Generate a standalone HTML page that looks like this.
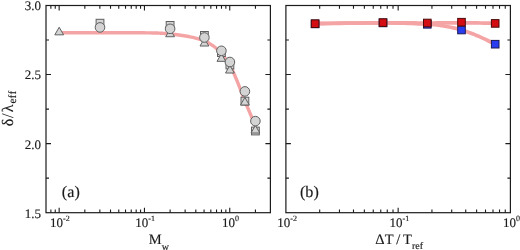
<!DOCTYPE html>
<html><head><meta charset="utf-8"><title>figure</title>
<style>html,body{margin:0;padding:0;background:#fff;overflow:hidden}svg{display:block} .t{font-family:"Liberation Serif","Times New Roman",serif;stroke:#1a1a1a;stroke-width:0.15px;text-rendering:geometricPrecision}</style>
</head><body>
<svg width="520" height="250" viewBox="0 0 520 250">
<rect width="520" height="250" fill="#fff"/>
<path d="M59.10,32.70 L61.05,32.70 L63.44,32.70 L66.24,32.70 L69.37,32.69 L72.78,32.69 L76.42,32.69 L80.24,32.69 L84.18,32.69 L88.18,32.69 L92.18,32.69 L96.14,32.69 L100.00,32.70 L103.94,32.71 L108.15,32.71 L112.55,32.71 L117.09,32.72 L121.69,32.72 L126.28,32.73 L130.80,32.74 L135.19,32.76 L139.37,32.78 L143.27,32.81 L146.84,32.85 L150.00,32.90 L152.74,32.95 L155.12,33.01 L157.20,33.07 L159.02,33.14 L160.64,33.21 L162.10,33.29 L163.46,33.38 L164.76,33.47 L166.05,33.58 L167.39,33.71 L168.82,33.85 L170.40,34.00 L172.08,34.17 L173.77,34.35 L175.48,34.55 L177.19,34.76 L178.89,34.98 L180.57,35.21 L182.24,35.45 L183.88,35.70 L185.48,35.96 L187.04,36.23 L188.55,36.51 L190.00,36.80 L191.40,37.10 L192.75,37.40 L194.06,37.71 L195.34,38.03 L196.58,38.36 L197.79,38.70 L198.96,39.05 L200.10,39.41 L201.22,39.79 L202.30,40.18 L203.36,40.58 L204.40,41.00 L205.41,41.44 L206.38,41.89 L207.33,42.36 L208.24,42.85 L209.12,43.35 L209.98,43.86 L210.81,44.37 L211.61,44.90 L212.39,45.42 L213.15,45.95 L213.89,46.48 L214.60,47.00 L215.28,47.51 L215.90,48.00 L216.48,48.47 L217.03,48.94 L217.55,49.42 L218.06,49.91 L218.56,50.41 L219.06,50.94 L219.58,51.51 L220.12,52.12 L220.69,52.78 L221.30,53.50 L221.95,54.27 L222.63,55.09 L223.34,55.94 L224.06,56.83 L224.80,57.76 L225.54,58.72 L226.28,59.71 L227.02,60.72 L227.75,61.76 L228.46,62.82 L229.14,63.90 L229.80,65.00 L230.43,66.12 L231.04,67.26 L231.63,68.42 L232.21,69.61 L232.77,70.82 L233.33,72.06 L233.88,73.32 L234.44,74.61 L234.99,75.92 L235.55,77.26 L236.12,78.62 L236.70,80.00 L237.30,81.44 L237.90,82.94 L238.52,84.51 L239.14,86.11 L239.77,87.74 L240.39,89.38 L241.01,91.00 L241.62,92.61 L242.22,94.18 L242.80,95.69 L243.36,97.14 L243.90,98.50 L244.41,99.77 L244.90,100.97 L245.36,102.10 L245.81,103.19 L246.24,104.23 L246.67,105.25 L247.09,106.26 L247.51,107.26 L247.94,108.27 L248.38,109.31 L248.83,110.38 L249.30,111.50 L249.80,112.70 L250.35,114.00 L250.92,115.36 L251.51,116.76 L252.10,118.17 L252.69,119.56 L253.26,120.91 L253.79,122.19 L254.29,123.36 L254.73,124.41 L255.10,125.29 L255.40,126.00" fill="none" stroke="#f4a4a4" stroke-width="3.4" stroke-linejoin="round"/>
<path d="M315.10,23.70 L318.46,23.65 L322.76,23.59 L327.85,23.51 L333.58,23.41 L339.77,23.32 L346.28,23.22 L352.94,23.12 L359.60,23.04 L366.09,22.97 L372.26,22.92 L377.95,22.90 L383.00,22.90 L387.60,22.93 L392.06,22.99 L396.36,23.06 L400.50,23.15 L404.48,23.26 L408.29,23.37 L411.92,23.50 L415.38,23.64 L418.65,23.78 L421.73,23.92 L424.61,24.06 L427.30,24.20 L429.71,24.34 L431.80,24.47 L433.62,24.61 L435.21,24.75 L436.62,24.89 L437.89,25.04 L439.06,25.20 L440.17,25.37 L441.28,25.56 L442.43,25.75 L443.65,25.97 L445.00,26.20 L446.42,26.45 L447.82,26.70 L449.21,26.97 L450.59,27.25 L451.96,27.54 L453.32,27.85 L454.69,28.17 L456.04,28.50 L457.40,28.85 L458.76,29.22 L460.13,29.60 L461.50,30.00 L462.87,30.42 L464.24,30.85 L465.61,31.29 L466.97,31.76 L468.34,32.23 L469.71,32.73 L471.08,33.23 L472.45,33.76 L473.83,34.29 L475.21,34.85 L476.60,35.42 L478.00,36.00 L479.46,36.63 L481.03,37.33 L482.65,38.09 L484.32,38.87 L485.99,39.68 L487.63,40.48 L489.22,41.25 L490.71,41.99 L492.09,42.68 L493.32,43.28 L494.37,43.80 L495.20,44.20" fill="none" stroke="#f4a4a4" stroke-width="3.7" stroke-linejoin="round"/>
<path d="M315.10,23.40 L318.46,23.37 L322.76,23.34 L327.85,23.30 L333.58,23.25 L339.77,23.20 L346.28,23.14 L352.94,23.09 L359.60,23.04 L366.09,22.99 L372.26,22.95 L377.95,22.92 L383.00,22.90 L387.55,22.89 L391.87,22.89 L395.97,22.89 L399.89,22.90 L403.64,22.91 L407.26,22.93 L410.75,22.95 L414.16,22.97 L417.49,22.98 L420.77,22.99 L424.04,23.00 L427.30,23.00 L430.51,22.99 L433.59,22.98 L436.57,22.96 L439.47,22.93 L442.29,22.91 L445.06,22.88 L447.80,22.86 L450.51,22.83 L453.22,22.81 L455.95,22.80 L458.70,22.80 L461.50,22.80 L464.43,22.81 L467.54,22.84 L470.75,22.87 L474.02,22.90 L477.28,22.94 L480.49,22.99 L483.57,23.03 L486.48,23.07 L489.16,23.11 L491.54,23.15 L493.57,23.18 L495.20,23.20" fill="none" stroke="#f4a4a4" stroke-width="3.7" stroke-linejoin="round"/>
<rect x="96.10" y="19.30" width="7.8" height="7.8" fill="#d4d4d4" stroke="#606060" stroke-width="1.0"/>
<rect x="166.20" y="21.50" width="7.8" height="7.8" fill="#d4d4d4" stroke="#606060" stroke-width="1.0"/>
<rect x="200.50" y="31.50" width="7.8" height="7.8" fill="#d4d4d4" stroke="#606060" stroke-width="1.0"/>
<rect x="217.50" y="48.70" width="7.8" height="7.8" fill="#d4d4d4" stroke="#606060" stroke-width="1.0"/>
<rect x="226.00" y="61.10" width="7.8" height="7.8" fill="#d4d4d4" stroke="#606060" stroke-width="1.0"/>
<rect x="241.00" y="97.20" width="7.8" height="7.8" fill="#d4d4d4" stroke="#606060" stroke-width="1.0"/>
<rect x="251.50" y="127.10" width="7.8" height="7.8" fill="#d4d4d4" stroke="#606060" stroke-width="1.0"/>
<path d="M59.20,27.23 L63.60,34.83 L54.80,34.83 Z" fill="#d4d4d4" stroke="#606060" stroke-width="1.0" stroke-linejoin="miter"/>
<path d="M170.10,29.13 L174.50,36.73 L165.70,36.73 Z" fill="#d4d4d4" stroke="#606060" stroke-width="1.0" stroke-linejoin="miter"/>
<path d="M204.40,38.43 L208.80,46.03 L200.00,46.03 Z" fill="#d4d4d4" stroke="#606060" stroke-width="1.0" stroke-linejoin="miter"/>
<path d="M221.40,53.73 L225.80,61.33 L217.00,61.33 Z" fill="#d4d4d4" stroke="#606060" stroke-width="1.0" stroke-linejoin="miter"/>
<path d="M229.90,65.43 L234.30,73.03 L225.50,73.03 Z" fill="#d4d4d4" stroke="#606060" stroke-width="1.0" stroke-linejoin="miter"/>
<path d="M244.90,97.43 L249.30,105.03 L240.50,105.03 Z" fill="#d4d4d4" stroke="#606060" stroke-width="1.0" stroke-linejoin="miter"/>
<path d="M255.40,125.43 L259.80,133.03 L251.00,133.03 Z" fill="#d4d4d4" stroke="#606060" stroke-width="1.0" stroke-linejoin="miter"/>
<circle cx="100.00" cy="27.40" r="4.8" fill="#d4d4d4" stroke="#606060" stroke-width="1.0"/>
<circle cx="170.10" cy="28.80" r="4.8" fill="#d4d4d4" stroke="#606060" stroke-width="1.0"/>
<circle cx="204.40" cy="37.50" r="4.8" fill="#d4d4d4" stroke="#606060" stroke-width="1.0"/>
<circle cx="221.40" cy="50.80" r="4.8" fill="#d4d4d4" stroke="#606060" stroke-width="1.0"/>
<circle cx="229.90" cy="62.00" r="4.8" fill="#d4d4d4" stroke="#606060" stroke-width="1.0"/>
<circle cx="244.90" cy="91.40" r="4.8" fill="#d4d4d4" stroke="#606060" stroke-width="1.0"/>
<circle cx="255.40" cy="121.10" r="4.8" fill="#d4d4d4" stroke="#606060" stroke-width="1.0"/>
<rect x="311.30" y="20.10" width="7.6" height="7.6" fill="#2a3cf0" stroke="#1a1a55" stroke-width="1.0"/>
<rect x="379.20" y="19.10" width="7.6" height="7.6" fill="#2a3cf0" stroke="#1a1a55" stroke-width="1.0"/>
<rect x="423.50" y="20.50" width="7.6" height="7.6" fill="#2a3cf0" stroke="#1a1a55" stroke-width="1.0"/>
<rect x="457.70" y="26.20" width="7.6" height="7.6" fill="#2a3cf0" stroke="#1a1a55" stroke-width="1.0"/>
<rect x="491.40" y="40.40" width="7.6" height="7.6" fill="#2a3cf0" stroke="#1a1a55" stroke-width="1.0"/>
<rect x="311.30" y="19.90" width="7.6" height="7.6" fill="#d40d12" stroke="#4a0a0a" stroke-width="1.0"/>
<rect x="379.20" y="18.80" width="7.6" height="7.6" fill="#d40d12" stroke="#4a0a0a" stroke-width="1.0"/>
<rect x="423.50" y="19.20" width="7.6" height="7.6" fill="#d40d12" stroke="#4a0a0a" stroke-width="1.0"/>
<rect x="457.70" y="18.40" width="7.6" height="7.6" fill="#d40d12" stroke="#4a0a0a" stroke-width="1.0"/>
<rect x="491.40" y="19.60" width="7.6" height="7.6" fill="#d40d12" stroke="#4a0a0a" stroke-width="1.0"/>
<path d="M50.88,212.7 v-3.3 M50.88,5.5 v3.3 M55.25,212.7 v-3.3 M55.25,5.5 v3.3 M59.15,212.7 v-5.0 M59.15,5.5 v5.0 M84.83,212.7 v-3.3 M84.83,5.5 v3.3 M99.85,212.7 v-3.3 M99.85,5.5 v3.3 M110.51,212.7 v-3.3 M110.51,5.5 v3.3 M118.77,212.7 v-3.3 M118.77,5.5 v3.3 M125.53,212.7 v-3.3 M125.53,5.5 v3.3 M131.24,212.7 v-3.3 M131.24,5.5 v3.3 M136.18,212.7 v-3.3 M136.18,5.5 v3.3 M140.55,212.7 v-3.3 M140.55,5.5 v3.3 M144.45,212.7 v-5.0 M144.45,5.5 v5.0 M170.13,212.7 v-3.3 M170.13,5.5 v3.3 M185.15,212.7 v-3.3 M185.15,5.5 v3.3 M195.81,212.7 v-3.3 M195.81,5.5 v3.3 M204.07,212.7 v-3.3 M204.07,5.5 v3.3 M210.83,212.7 v-3.3 M210.83,5.5 v3.3 M216.54,212.7 v-3.3 M216.54,5.5 v3.3 M221.48,212.7 v-3.3 M221.48,5.5 v3.3 M225.85,212.7 v-3.3 M225.85,5.5 v3.3 M229.75,212.7 v-5.0 M229.75,5.5 v5.0 M255.43,212.7 v-3.3 M255.43,5.5 v3.3 M46.0,40.03 h3 M270.4,40.03 h-3 M46.0,109.10 h3 M270.4,109.10 h-3 M46.0,178.17 h3 M270.4,178.17 h-3 M46.0,74.57 h5 M270.4,74.57 h-5 M46.0,143.63 h5 M270.4,143.63 h-5 " stroke="#1c1c1c" stroke-width="1.1" fill="none"/>
<rect x="46.0" y="5.5" width="224.39999999999998" height="207.2" fill="none" stroke="#1c1c1c" stroke-width="1.2"/>
<path d="M319.69,212.7 v-3.3 M319.69,5.5 v3.3 M339.46,212.7 v-3.3 M339.46,5.5 v3.3 M353.48,212.7 v-3.3 M353.48,5.5 v3.3 M364.36,212.7 v-3.3 M364.36,5.5 v3.3 M373.25,212.7 v-3.3 M373.25,5.5 v3.3 M380.76,212.7 v-3.3 M380.76,5.5 v3.3 M387.27,212.7 v-3.3 M387.27,5.5 v3.3 M393.01,212.7 v-3.3 M393.01,5.5 v3.3 M398.15,212.7 v-5.0 M398.15,5.5 v5.0 M431.94,212.7 v-3.3 M431.94,5.5 v3.3 M451.71,212.7 v-3.3 M451.71,5.5 v3.3 M465.73,212.7 v-3.3 M465.73,5.5 v3.3 M476.61,212.7 v-3.3 M476.61,5.5 v3.3 M485.50,212.7 v-3.3 M485.50,5.5 v3.3 M493.01,212.7 v-3.3 M493.01,5.5 v3.3 M499.52,212.7 v-3.3 M499.52,5.5 v3.3 M505.26,212.7 v-3.3 M505.26,5.5 v3.3 M285.9,40.03 h3 M510.4,40.03 h-3 M285.9,109.10 h3 M510.4,109.10 h-3 M285.9,178.17 h3 M510.4,178.17 h-3 M285.9,74.57 h5 M510.4,74.57 h-5 M285.9,143.63 h5 M510.4,143.63 h-5 " stroke="#1c1c1c" stroke-width="1.1" fill="none"/>
<rect x="285.9" y="5.5" width="224.5" height="207.2" fill="none" stroke="#1c1c1c" stroke-width="1.2"/>
<text x="41.00" y="10.40" font-size="13" text-anchor="end" fill="#1a1a1a" class="t" >3.0</text>
<text x="41.00" y="79.47" font-size="13" text-anchor="end" fill="#1a1a1a" class="t" >2.5</text>
<text x="41.00" y="148.53" font-size="13" text-anchor="end" fill="#1a1a1a" class="t" >2.0</text>
<text x="41.00" y="217.60" font-size="13" text-anchor="end" fill="#1a1a1a" class="t" >1.5</text>
<text x="59.85" y="226.8" font-size="13" text-anchor="middle" fill="#1a1a1a" class="t">10<tspan font-size="8" dy="-5.5">-2</tspan></text>
<text x="287.10" y="226.8" font-size="13" text-anchor="middle" fill="#1a1a1a" class="t">10<tspan font-size="8" dy="-5.5">-2</tspan></text>
<text x="145.15" y="226.8" font-size="13" text-anchor="middle" fill="#1a1a1a" class="t">10<tspan font-size="8" dy="-5.5">-1</tspan></text>
<text x="399.35" y="226.8" font-size="13" text-anchor="middle" fill="#1a1a1a" class="t">10<tspan font-size="8" dy="-5.5">-1</tspan></text>
<text x="230.45" y="226.8" font-size="13" text-anchor="middle" fill="#1a1a1a" class="t">10<tspan font-size="8" dy="-5.5">0</tspan></text>
<text x="511.60" y="226.8" font-size="13" text-anchor="middle" fill="#1a1a1a" class="t">10<tspan font-size="8" dy="-5.5">0</tspan></text>
<text x="158.9" y="244.2" font-size="14.5" text-anchor="middle" fill="#1a1a1a" class="t">M<tspan font-size="10" dy="5.5">w</tspan></text>
<text x="399.2" y="244.4" font-size="14.5" text-anchor="middle" word-spacing="-0.6" fill="#1a1a1a" class="t">ΔT / T<tspan font-size="10" dy="4.5">ref</tspan></text>
<text transform="translate(13.0,0) rotate(-90)" font-size="16" fill="#1a1a1a" class="t"><tspan x="-126.3">δ</tspan><tspan x="-117.9">/</tspan><tspan x="-112.2">λ</tspan><tspan x="-103.6" dy="3.2" font-size="11.3" letter-spacing="0.2">eff</tspan></text>
<text x="70.80" y="196.60" font-size="16.2" text-anchor="middle" fill="#1a1a1a" class="t" >(a)</text>
<text x="309.35" y="196.60" font-size="16.2" text-anchor="middle" fill="#1a1a1a" class="t" >(b)</text>
</svg>
</body></html>
